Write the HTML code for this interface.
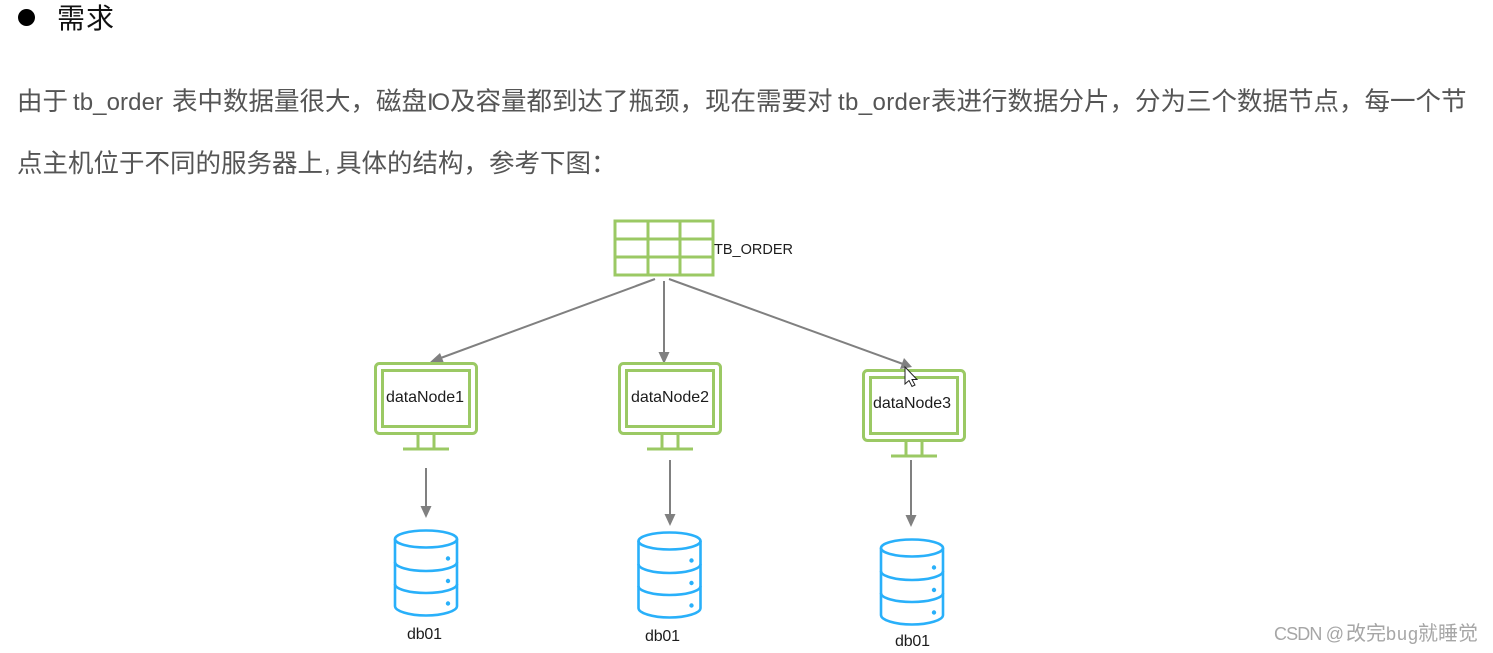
<!DOCTYPE html>
<html lang="zh">
<head>
<meta charset="utf-8">
<style>
html,body{margin:0;padding:0;background:#fff;width:1493px;height:653px;overflow:hidden}
svg{display:block}
text{font-family:"Liberation Sans","Noto Sans CJK SC",sans-serif}
.d{font-size:16px;fill:#1c1c1c}
.t{font-size:14.5px;fill:#1c1c1c}
.p{font-size:25.5px;fill:#555}
.q{font-size:24px;fill:#555}
.w{fill:#a6a6a6}
.g{fill:none;stroke:#9bc964;stroke-width:3}
.l{stroke:#808080;stroke-width:2;fill:none}
.a{fill:#808080}
.b{fill:none;stroke:#29b0fa;stroke-width:2.6}
.o{fill:#29b0fa}
</style>
</head>
<body>
<svg width="1493" height="653" viewBox="0 0 1493 653" xmlns="http://www.w3.org/2000/svg">
<rect width="1493" height="653" fill="#fff"/>
<circle cx="26.500" cy="17.500" r="8.500" fill="#000"/>
<text x="57" y="28" font-size="28" fill="#111" textLength="57">需求</text>

<text class="p" x="17" y="110">由于</text>
<text class="q" x="73" y="110" textLength="90">tb_order</text>
<text class="p" x="172" y="110">表中数据量很大，磁盘</text>
<text class="q" x="427" y="110" textLength="23">IO</text>
<text class="p" x="450" y="110">及容量都到达了瓶颈，现在需要对</text>
<text class="q" x="838" y="110" textLength="92">tb_order</text>
<text class="p" x="931" y="110">表进行数据分片，分为三个数据节点，每一个节</text>

<text class="p" x="17" y="172">点主机位于不同的服务器上</text>
<text class="q" x="324" y="172">,</text>
<text class="p" x="336" y="172">具体的结构，参考下图：</text>

<g class="g">
<rect x="615" y="221" width="98" height="54"/>
<path d="M615 239H713M615 257H713M648 221V275M680 221V275"/>
</g>
<text class="t" x="714" y="254" textLength="79">TB_ORDER</text>

<path class="l" d="M655 279L438 359"/>
<path class="a" d="M429 363L440 353L444 363Z"/>
<path class="l" d="M664 281V354"/>
<path class="a" d="M664 364L658.500 352H669.500Z"/>
<path class="l" d="M669 279L903 364"/>
<path class="a" d="M912 367L900 369L904 358Z"/>

<rect class="g" x="375.500" y="363.500" width="101" height="70" rx="4"/>
<rect class="g" x="382.500" y="370.500" width="87" height="56"/>
<path class="g" d="M418 434V449M434 434V449M403 449H449"/>
<text class="d" x="386" y="402" textLength="78">dataNode1</text>

<rect class="g" x="619.500" y="363.500" width="101" height="70" rx="4"/>
<rect class="g" x="626.500" y="370.500" width="87" height="56"/>
<path class="g" d="M662 434V449M678 434V449M647 449H693"/>
<text class="d" x="631" y="402" textLength="78">dataNode2</text>

<rect class="g" x="863.500" y="370.500" width="101" height="70" rx="4"/>
<rect class="g" x="870.500" y="377.500" width="87" height="56"/>
<path class="g" d="M906 441V456M922 441V456M891 456H937"/>
<text class="d" x="873" y="408" textLength="78">dataNode3</text>

<path d="M905 367V384L909 380.500L912 386.500L915 385L912 379.500H917Z" fill="#fff" stroke="#222" stroke-width="1"/>

<path class="l" d="M426 468V508"/>
<path class="a" d="M426 518L420.500 506H431.500Z"/>
<path class="l" d="M670 460V516"/>
<path class="a" d="M670 526L664.500 514H675.500Z"/>
<path class="l" d="M911 460V517"/>
<path class="a" d="M911 527L905.500 515H916.500Z"/>

<g transform="translate(426 0)">
<ellipse class="b" cx="0" cy="539" rx="31" ry="8.500"/>
<path class="b" d="M-31 539V606C-31 611 -17 615.500 0 615.500S31 611 31 606V539"/>
<path class="b" d="M-31 562C-31 567 -17 571 0 571S31 567 31 562"/>
<path class="b" d="M-31 584C-31 589 -17 593 0 593S31 589 31 584"/>
<circle class="o" cx="22" cy="558.500" r="2.200"/><circle class="o" cx="22" cy="581" r="2.200"/><circle class="o" cx="22" cy="603.500" r="2.200"/>
</g>
<text class="d" x="407" y="639" textLength="35">db01</text>

<g transform="translate(669.500 2)">
<ellipse class="b" cx="0" cy="539" rx="31" ry="8.500"/>
<path class="b" d="M-31 539V606C-31 611 -17 615.500 0 615.500S31 611 31 606V539"/>
<path class="b" d="M-31 562C-31 567 -17 571 0 571S31 567 31 562"/>
<path class="b" d="M-31 584C-31 589 -17 593 0 593S31 589 31 584"/>
<circle class="o" cx="22" cy="558.500" r="2.200"/><circle class="o" cx="22" cy="581" r="2.200"/><circle class="o" cx="22" cy="603.500" r="2.200"/>
</g>
<text class="d" x="645" y="641" textLength="35">db01</text>

<g transform="translate(912 9)">
<ellipse class="b" cx="0" cy="539" rx="31" ry="8.500"/>
<path class="b" d="M-31 539V606C-31 611 -17 615.500 0 615.500S31 611 31 606V539"/>
<path class="b" d="M-31 562C-31 567 -17 571 0 571S31 567 31 562"/>
<path class="b" d="M-31 584C-31 589 -17 593 0 593S31 589 31 584"/>
<circle class="o" cx="22" cy="558.500" r="2.200"/><circle class="o" cx="22" cy="581" r="2.200"/><circle class="o" cx="22" cy="603.500" r="2.200"/>
</g>
<text class="d" x="895" y="646" textLength="35">db01</text>

<text class="w" x="1274" y="640" font-size="18" textLength="70">CSDN @</text>
<text class="w" x="1346" y="640" font-size="20">改完</text>
<text class="w" x="1386" y="640" font-size="18" textLength="32">bug</text>
<text class="w" x="1418" y="640" font-size="20">就睡觉</text>
</svg>
</body>
</html>
